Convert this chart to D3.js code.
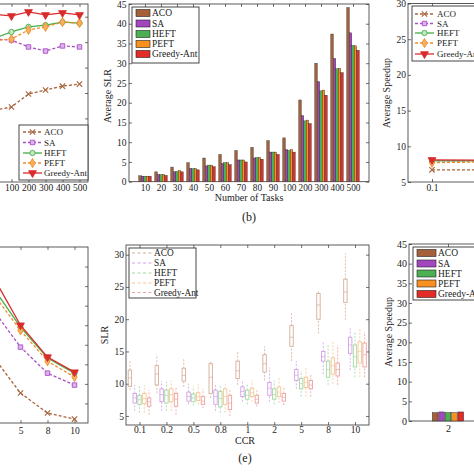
<!DOCTYPE html>
<html>
<head>
<meta charset="utf-8">
<script src="https://cdn.jsdelivr.net/npm/d3@7"></script>
<style>
  body { margin: 0; background: #fff; }
  text { font-family: "Liberation Serif", "Times New Roman", serif; fill: #222; }
</style>
</head>
<body>
<svg id="fig" width="474" height="474"></svg>
<script>
const algos = ["ACO", "SA", "HEFT", "PEFT", "Greedy-Ant"];
const lineColors = ["#a9643c", "#ab4fc6", "#45ad4b", "#f08c28", "#d92b2b"];
const barColors = ["#a66039", "#a347bf", "#4cb052", "#f7901e", "#e32b28"];
const boxColors = ["#d4ae98", "#d3a0e8", "#a0d8a0", "#f7c592", "#efa0a0"];
const dashes = ["3,2", "3,2", null, "3,2", null];

const tasks = ["10", "20", "30", "40", "50", "60", "70", "80", "90", "100", "200", "300", "400", "500"];
const ccr = ["0.1", "0.2", "0.5", "0.8", "1", "2", "5", "8", "10"];

// (a) lines vs number of tasks (only the right part is in the picture)
const tasksA = ["90", "100", "200", "300", "400", "500"];
const acoA = [3.33, 3.45, 3.96, 4.12, 4.27, 4.35];
const saA = [6.12, 6.08, 5.81, 5.65, 5.85, 5.81];
const heftA = [6.16, 6.4, 6.6, 6.67, 6.79, 6.75];
const peftA = [6.06, 6.12, 6.48, 6.6, 6.79, 6.75];
const greedyA = [7.09, 7.03, 7.19, 7.07, 7.15, 7.07];
const ticksA = [1, 2, 3, 4, 5, 6, 7];

// (b) average SLR vs number of tasks
const acoB = [1.5, 2.5, 3.7, 4.8, 6.0, 6.9, 7.9, 8.7, 10.4, 11.1, 20.7, 30.0, 37.4, 44.1];
const saB = [1.4, 1.8, 2.5, 3.3, 4.0, 4.6, 5.5, 6.0, 7.5, 8.1, 16.7, 25.3, 31.2, 37.7];
const heftB = [1.4, 1.8, 2.6, 3.3, 4.2, 4.8, 5.5, 6.1, 7.5, 7.9, 15.4, 23.0, 28.6, 34.5];
const peftB = [1.4, 1.8, 2.8, 3.3, 4.2, 4.8, 5.5, 6.1, 7.5, 8.1, 15.6, 23.2, 28.7, 34.4];
const greedyB = [1.4, 1.6, 2.5, 3.0, 3.8, 4.3, 5.0, 5.7, 6.9, 7.5, 14.7, 21.9, 27.6, 33.3];
const ticksB = [0, 5, 10, 15, 20, 25, 30, 35, 40, 45];

// (c) average speedup vs CCR (only the first points are in the picture)
const ccrC = ["0.1", "0.2"];
const acoC = [6.7, 6.7];
const saC = [8.0, 7.95];
const heftC = [7.95, 7.95];
const peftC = [7.7, 7.8];
const greedyC = [8.1, 8.05];
const ticksC = [5, 10, 15, 20, 25, 30];

// (d) lines vs CCR (right part)
const ccrD = ["2", "5", "8", "10"];
const acoD = [4.37, 2.53, 1.51, 1.2];
const saD = [6.77, 4.88, 3.55, 2.94];
const heftD = [7.89, 5.9, 4.32, 3.55];
const peftD = [7.58, 5.74, 4.16, 3.35];
const greedyD = [8.45, 6.0, 4.37, 3.6];
const ticksD = [2, 3, 4, 5, 6, 7, 8, 9];

// (e) SLR box plots vs CCR: [low whisker, q1, median, q3, high whisker]
const boxACO = [[9.0, 9.6, 10.9, 12.1, 13.6], [8.5, 9.8, 11.5, 12.8, 14.5], [9.5, 10.4, 11.3, 12.4, 14.0],
  [7.8, 8.5, 11.0, 13.1, 13.5], [9.8, 10.8, 12.0, 13.5, 15.0], [10.5, 11.8, 13.1, 14.5, 15.8],
  [13.5, 15.8, 17.2, 19.0, 21.2], [17.8, 20.0, 22.2, 24.0, 24.5], [19.9, 22.6, 24.2, 26.2, 30.2]];
const boxSA = [[5.8, 7.0, 7.8, 8.5, 9.8], [5.8, 7.2, 8.3, 9.2, 10.4], [6.8, 7.3, 8.0, 8.7, 10.0],
  [5.8, 6.8, 8.0, 9.0, 9.8], [7.2, 8.0, 8.8, 9.5, 10.5], [7.2, 8.2, 9.3, 10.2, 12.5],
  [9.2, 10.5, 11.3, 12.2, 13.5], [11.5, 13.5, 14.2, 15.0, 16.5], [12.1, 14.7, 16.0, 17.2, 18.8]];
const boxHEFT = [[5.5, 6.8, 7.5, 8.2, 9.8], [5.8, 7.0, 8.2, 9.0, 10.3], [6.6, 7.2, 7.8, 8.4, 9.6],
  [5.5, 6.4, 7.7, 8.8, 9.6], [6.8, 7.6, 8.2, 9.0, 10.0], [6.8, 7.6, 8.3, 9.2, 10.5],
  [8.0, 9.2, 10.0, 10.8, 12.0], [9.8, 11.0, 12.2, 13.5, 16.0], [11.0, 12.6, 14.2, 16.0, 18.0]];
const boxPEFT = [[5.5, 6.9, 7.7, 8.5, 9.8], [5.8, 7.2, 8.3, 9.2, 10.5], [6.8, 7.4, 8.0, 8.6, 10.0],
  [5.5, 6.8, 8.0, 9.2, 10.0], [7.2, 8.0, 8.6, 9.3, 10.5], [7.0, 8.0, 8.7, 9.5, 11.0],
  [8.0, 9.4, 10.2, 11.0, 12.6], [10.0, 11.5, 12.8, 14.0, 16.5], [11.0, 13.2, 15.0, 16.5, 18.5]];
const boxGreedy = [[5.2, 6.5, 7.2, 7.8, 9.0], [5.2, 6.5, 7.6, 8.5, 9.5], [6.2, 6.8, 7.3, 8.0, 9.2],
  [5.0, 6.0, 7.0, 8.2, 9.0], [6.5, 7.0, 7.6, 8.2, 9.0], [6.7, 7.3, 7.9, 8.5, 9.5],
  [8.0, 9.2, 9.8, 10.5, 11.5], [9.8, 11.2, 12.2, 13.2, 16.0], [11.0, 12.6, 14.5, 16.3, 18.0]];
const ticksE = [5, 10, 15, 20, 25, 30];

// (f) average speedup vs processors (first group only)
const procF = ["2"];
const acoF = [2.1];
const saF = [2.3];
const heftF = [2.1];
const peftF = [2.1];
const greedyF = [2.3];
const ticksF = [0, 5, 10, 15, 20, 25, 30, 35, 40, 45];

const W = 474;
const svg = d3.select("#fig");

function styleAxis(g, size) {
  g.select(".domain").remove();
  g.selectAll(".tick line").attr("stroke", "#333").attr("stroke-width", 0.7);
  g.selectAll("text")
    .attr("font-family", '"Liberation Serif", "Times New Roman", serif')
    .attr("font-size", size)
    .attr("fill", "#222");
  g.attr("font-family", null);
}

function frame(x, y, xr, yr, opts) {
  const [x0, x1] = xr;
  const [y0, y1] = yr;
  const g = svg.append("g");
  const fs = opts.fs || 10;
  const bottom = g.append("g").attr("transform", `translate(0,${y1})`)
    .call(d3.axisBottom(x).tickSizeInner(-3).tickSizeOuter(0).tickPadding(opts.xpad || 2.5)
      .tickValues(opts.xvals || null).tickFormat(opts.xfmt || null));
  styleAxis(bottom, opts.xfs || fs);
  // labels that fall outside the picture are dropped
  bottom.selectAll(".tick").filter(d => x(d) < 4 || x(d) > W - 4).select("text").remove();
  const top = g.append("g").attr("transform", `translate(0,${y0})`)
    .call(d3.axisTop(x).tickSizeInner(-3).tickSizeOuter(0).tickValues(opts.xvals || null).tickFormat(""));
  styleAxis(top, fs);
  if (x0 >= 0) {
    const left = g.append("g").attr("transform", `translate(${x0},0)`)
      .call(d3.axisLeft(y).tickSizeInner(-3).tickSizeOuter(0).tickPadding(opts.ypad || 2.5).tickValues(opts.yvals));
    styleAxis(left, fs);
  }
  const right = g.append("g").attr("transform", `translate(${x1},0)`)
    .call(d3.axisRight(y).tickSizeInner(-3).tickSizeOuter(0).tickValues(opts.yvals).tickFormat(""));
  styleAxis(right, fs);
  g.append("rect").attr("x", x0).attr("y", y0).attr("width", x1 - x0).attr("height", y1 - y0)
    .attr("fill", "none").attr("stroke", "#333").attr("stroke-width", 0.8);
  return g;
}

function marker(sel, k) {
  const shapes = [d3.symbolTimes, d3.symbolSquare, d3.symbolCircle, d3.symbolDiamond, d3.symbolTriangle];
  const sizes = [20, 20, 22, 24, 26];
  const fills = ["none", "#dcb4ec", "#c4e8c4", "#f7b060", lineColors[4]];
  sel.attr("d", d3.symbol().type(shapes[k]).size(sizes[k])())
    .attr("fill", fills[k])
    .attr("stroke", lineColors[k])
    .attr("stroke-width", k === 0 ? 1.1 : 0.9);
}

function drawLines(g, x, y, cats, series) {
  series.forEach((vals, k) => {
    const pts = cats.map((c, i) => [x(c), y(vals[i])]);
    g.append("path").attr("d", d3.line()(pts)).attr("fill", "none")
      .attr("stroke", lineColors[k]).attr("stroke-width", 1.3)
      .attr("stroke-dasharray", dashes[k]);
    g.selectAll(null).data(pts).join("path")
      .attr("transform", d => `translate(${d[0]},${d[1]})` + (k === 4 ? " rotate(180)" : ""))
      .call(marker, k);
  });
}

function legendBox(x0, y0, w, h) {
  svg.append("rect").attr("x", x0).attr("y", y0).attr("width", w).attr("height", h)
    .attr("fill", "#fff").attr("stroke", "#333").attr("stroke-width", 0.9);
}

function lineLegend(x0, y0, w, h, rows, sx0, sx1, tx, fs) {
  legendBox(x0, y0, w, h);
  algos.forEach((name, k) => {
    const yy = rows[k];
    svg.append("line").attr("x1", sx0).attr("x2", sx1).attr("y1", yy).attr("y2", yy)
      .attr("stroke", lineColors[k]).attr("stroke-width", 1.3).attr("stroke-dasharray", dashes[k]);
    svg.append("path").attr("transform", `translate(${(sx0 + sx1) / 2},${yy})` + (k === 4 ? " rotate(180)" : ""))
      .call(marker, k);
    svg.append("text").attr("x", tx).attr("y", yy).attr("dy", "0.35em").attr("font-size", fs).text(name);
  });
}

function barLegend(x0, y0, w, h, rows, sx0, sx1, tx, fs) {
  legendBox(x0, y0, w, h);
  algos.forEach((name, k) => {
    const yy = rows[k];
    svg.append("rect").attr("x", sx0).attr("y", yy - 3.5).attr("width", sx1 - sx0).attr("height", 7)
      .attr("fill", barColors[k]).attr("stroke", "#222").attr("stroke-width", 0.6);
    svg.append("text").attr("x", tx).attr("y", yy).attr("dy", "0.35em").attr("font-size", fs).text(name);
  });
}

function ylabel(x, y, txt, size) {
  svg.append("text").attr("transform", `translate(${x},${y}) rotate(-90)`)
    .attr("text-anchor", "middle").attr("font-size", size).text(txt);
}

function xlabel(x, y, txt, size) {
  svg.append("text").attr("x", x).attr("y", y).attr("text-anchor", "middle")
    .attr("font-size", size).text(txt);
}

// ---------- (a) ----------
{
  const xa = d3.scalePoint().domain(tasks).range([-141.5, 79.5]);
  const ya = d3.scaleLinear().domain([0.5, 7.5]).range([182, 4]);
  const g = frame(xa, ya, [-150, 88], [4, 182], { yvals: ticksA, xpad: 2.5, fs: 9.5 });
  drawLines(g, xa, ya, tasksA, [acoA, saA, heftA, peftA, greedyA]);
  lineLegend(19, 125, 69, 55, [132, 142.5, 153, 163, 173], 23, 42, 44, 9);
}

// ---------- (b) ----------
{
  const xb = d3.scalePoint().domain(tasks).range([145, 353]);
  const inner = d3.scaleBand().domain(algos).range([-6.2, 6.2]);
  const yb = d3.scaleLinear().domain([0, 45]).range([181.7, 4]);
  const g = frame(xb, yb, [129, 369], [4, 181.7], { yvals: ticksB, xpad: 2.5, ypad: 2.5, fs: 9.5, xfs: 9.3 });
  [acoB, saB, heftB, peftB, greedyB].forEach((vals, k) => {
    g.selectAll(null).data(tasks).join("rect")
      .attr("x", (t) => xb(t) + inner(algos[k]))
      .attr("width", inner.bandwidth())
      .attr("y", (t, i) => yb(vals[i]))
      .attr("height", (t, i) => yb(0) - yb(vals[i]))
      .attr("fill", barColors[k]).attr("stroke", "#2a2a2a").attr("stroke-width", 0.4);
  });
  barLegend(132, 7, 67, 56, [13, 23.5, 34, 44, 54], 136, 150, 152, 9.5);
  ylabel(111, 96, "Average SLR", 10);
  xlabel(249, 201, "Number of Tasks", 10);
  xlabel(249, 221, "(b)", 12);
}

// ---------- (c) ----------
{
  const xc = d3.scalePoint().domain(ccr).range([432, 816]);
  const yc = d3.scaleLinear().domain([5, 30]).range([182, 3.5]);
  const g = frame(xc, yc, [408, 840], [3.5, 182], { yvals: ticksC, xpad: 2.5, ypad: 2, fs: 9.5 });
  drawLines(g, xc, yc, ccrC, [acoC, saC, heftC, peftC, greedyC]);
  lineLegend(412, 6, 80, 55, [14, 23.5, 33, 43, 54], 415, 434, 437, 9);
  ylabel(390, 93, "Average Speedup", 10);
}

// ---------- (d) ----------
{
  const xd = d3.scalePoint().domain(ccr).range([-141.5, 74.5]);
  const yd = d3.scaleLinear().domain([1, 10]).range([423, 247]);
  const g = frame(xd, yd, [-155, 88], [247, 423], { yvals: ticksD, xpad: 3.8, fs: 9.5 });
  drawLines(g, xd, yd, ccrD, [acoD, saD, heftD, peftD, greedyD]);
}

// ---------- (e) ----------
{
  const xe = d3.scalePoint().domain(ccr).range([139.5, 355]);
  const inner = d3.scaleBand().domain(algos).range([-12, 12]);
  const ye = d3.scaleLinear().domain([3.6, 31.5]).range([425, 245]);
  const g = frame(xe, ye, [126, 369], [245, 425], { yvals: ticksE, xpad: 1.5, ypad: 2, fs: 9.5 });
  const bw = 3.4;
  [boxACO, boxSA, boxHEFT, boxPEFT, boxGreedy].forEach((boxes, k) => {
    const col = boxColors[k];
    boxes.forEach((b, i) => {
      const cx = xe(ccr[i]) + inner(algos[k]) + inner.bandwidth() / 2;
      g.append("line").attr("x1", cx).attr("x2", cx).attr("y1", ye(b[0])).attr("y2", ye(b[1]))
        .attr("stroke", col).attr("stroke-width", 0.8).attr("stroke-dasharray", "2,1.5");
      g.append("line").attr("x1", cx).attr("x2", cx).attr("y1", ye(b[3])).attr("y2", ye(b[4]))
        .attr("stroke", col).attr("stroke-width", 0.8).attr("stroke-dasharray", "2,1.5");
      g.append("rect").attr("x", cx - bw / 2).attr("width", bw)
        .attr("y", ye(b[3])).attr("height", ye(b[1]) - ye(b[3]))
        .attr("fill", "none").attr("stroke", col).attr("stroke-width", 0.9);
      g.append("line").attr("x1", cx - bw / 2).attr("x2", cx + bw / 2).attr("y1", ye(b[2])).attr("y2", ye(b[2]))
        .attr("stroke", col).attr("stroke-width", 0.7);
    });
  });
  legendBox(129, 248, 67, 50);
  [253, 263, 273, 283, 292.5].forEach((yy, k) => {
    svg.append("line").attr("x1", 132).attr("x2", 152).attr("y1", yy).attr("y2", yy)
      .attr("stroke", boxColors[k]).attr("stroke-width", 1).attr("stroke-dasharray", "3,2.5");
    svg.append("text").attr("x", 154).attr("y", yy).attr("dy", "0.35em").attr("font-size", 9.3).text(algos[k]);
  });
  ylabel(108, 335, "SLR", 10);
  xlabel(245, 443.5, "CCR", 10);
  xlabel(245, 462, "(e)", 12);
}

// ---------- (f) ----------
{
  const xf = d3.scaleLinear().domain([0, 6]).range([409, 643]);
  const inner = d3.scaleBand().domain(algos).range([-0.4, 0.4]).paddingInner(0.12);
  const yf = d3.scaleLinear().domain([0, 45]).range([421, 244]);
  const g = frame(xf, yf, [409, 643], [244, 421], {
    yvals: ticksF, xvals: procF.map((d, i) => i + 1), xfmt: (v) => procF[v - 1],
    xpad: 4.2, ypad: 2, fs: 10
  });
  [acoF, saF, heftF, peftF, greedyF].forEach((vals, k) => {
    g.selectAll(null).data(procF).join("rect")
      .attr("x", (p, i) => xf(i + 1 + inner(algos[k])))
      .attr("width", xf(inner.bandwidth()) - xf(0))
      .attr("y", (p, i) => yf(vals[i]))
      .attr("height", (p, i) => yf(0) - yf(vals[i]))
      .attr("fill", barColors[k]).attr("stroke", "#2a2a2a").attr("stroke-width", 0.5);
  });
  barLegend(413, 247, 80, 53, [253, 263.5, 273.5, 283.5, 294], 417, 436, 438, 9.5);
  ylabel(392, 332, "Average Speedup", 10);
}
</script>
</body>
</html>
